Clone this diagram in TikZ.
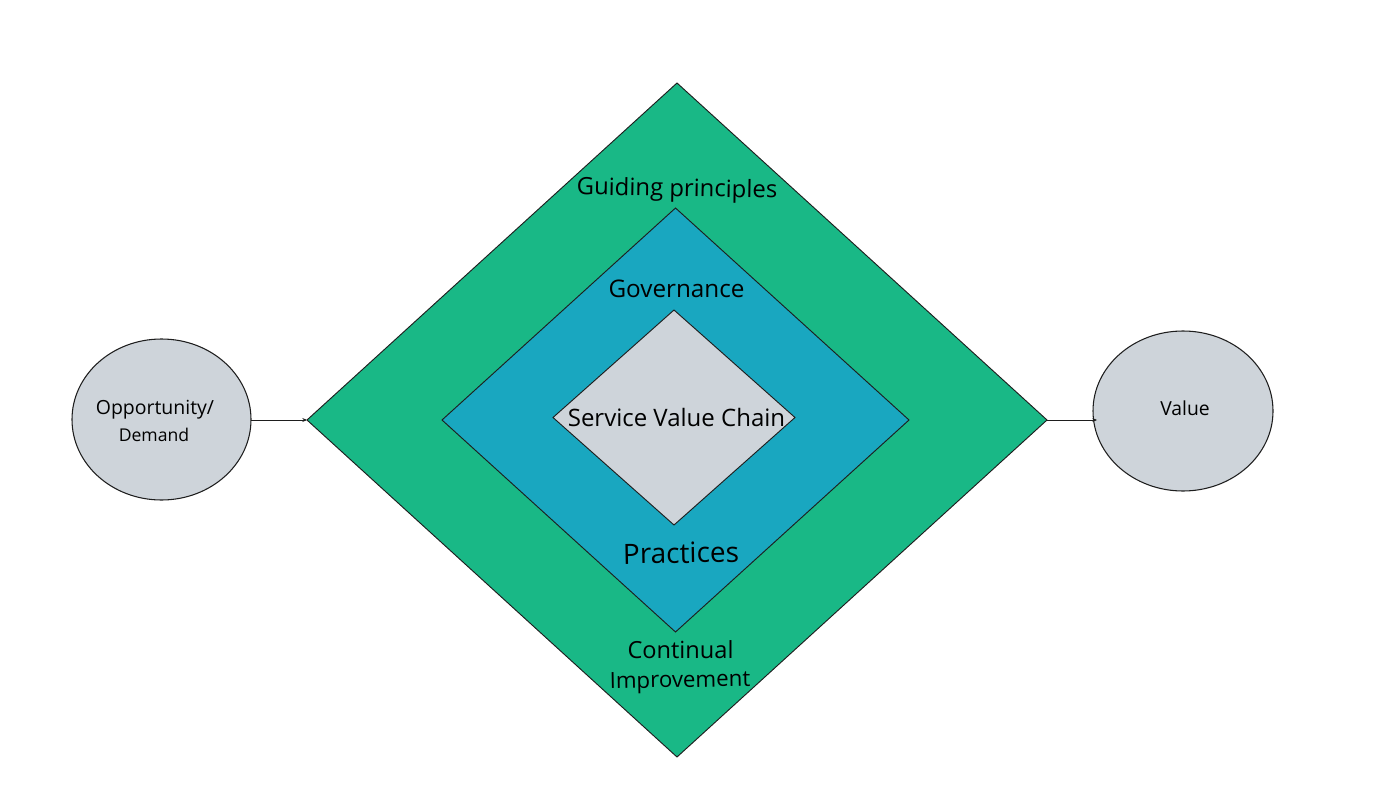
\documentclass[tikz,border=0pt]{standalone}
\usepackage{fontspec}
\setmainfont{Open Sans}
\usetikzlibrary{shapes.geometric,arrows.meta}
\definecolor{sketchgreen}{HTML}{19B886}
\definecolor{sketchblue}{HTML}{19A7C0}
\definecolor{sketchgray}{HTML}{CED4DA}
\definecolor{sketchink}{HTML}{1E1E1E}
\tikzset{
  rhomb/.style={diamond,draw=sketchink,line width=0.7pt,inner sep=0pt,outer sep=0pt,minimum width=#1},
  blob/.style={ellipse,draw=sketchink,line width=0.8pt,fill=sketchgray,inner sep=0pt,outer sep=0pt,minimum width=#1},
  lab/.style={text=black,inner sep=0pt,align=center,font=\fontsize{#1}{#1}\selectfont},
  link/.style={draw=sketchink,line width=0.7pt,-{Stealth[length=3.5pt,width=3pt]}}
}
\begin{document}
\begin{tikzpicture}[x=0.75pt,y=-0.75pt]
\useasboundingbox (0,0) rectangle (1374,806);
\node[rhomb=555pt,minimum height=505.5pt,fill=sketchgreen] (outer) at (677,420) {};
\node[rhomb=350.25pt,minimum height=318pt,fill=sketchblue] (middle) at (675.5,420) {};
\node[rhomb=181.5pt,minimum height=161.25pt,fill=sketchgray] (inner) at (674,417.5) {};
\node[blob=134.25pt,minimum height=120.75pt] (opp) at (161.5,419.5) {};
\node[blob=135pt,minimum height=120pt] (value) at (1183,411) {};
\draw[link] (opp.east |- outer.west) -- (outer.west);
\draw[link,shorten >=-3pt] (outer.east) -- (value.west |- outer.east);
\node[lab=17.9,rotate=-1] (t1) at (677,190) {Guiding principles};
\node[lab=18.2] (t2) at (676.5,289) {Governance};
\node[lab=18] (t3) at (676.5,417) {Service Value Chain};
\node[lab=21,rotate=1] (t4) at (681,553) {Practices};
\node[lab=17.7] (t5) at (680.5,650) {Continual};
\node[lab=16.7,rotate=1] (t6) at (680,682) {Improvement};
\node[lab=14.6] (t7) at (155,410) {Opportunity/};
\node[lab=13.2] (t8) at (154,435) {Demand};
\node[lab=14.5] (t9) at (1185,408) {Value};
\end{tikzpicture}
\end{document}
